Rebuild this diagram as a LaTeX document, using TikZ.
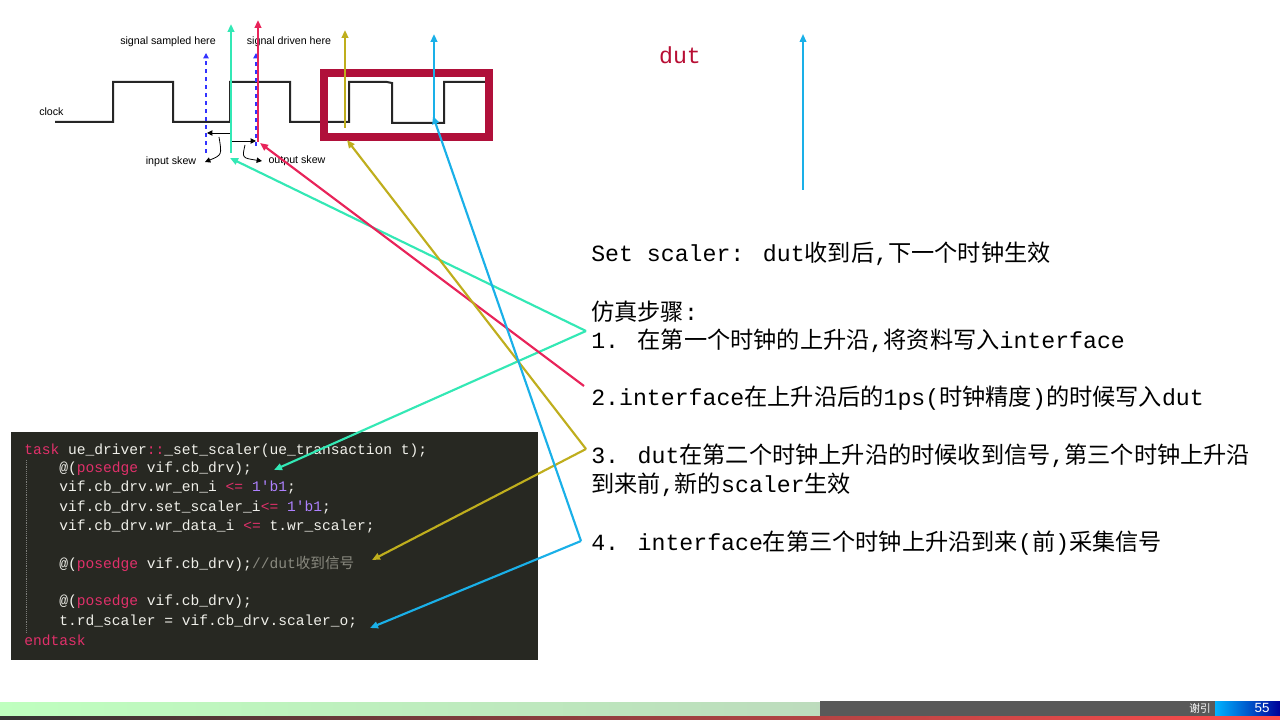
\documentclass[tikz,border=0pt]{standalone}
\usepackage{fontspec}
\setmainfont{Liberation Sans}
\newfontfamily\codefont{Liberation Mono}
\newfontfamily\zhfont{Noto Sans CJK SC}
\newcommand{\zh}[1]{{\zhfont #1}}
\usetikzlibrary{arrows.meta}
\definecolor{cgreen}{HTML}{33E8B5}
\definecolor{cred}{HTML}{E8245A}
\definecolor{cyel}{HTML}{BFAE1D}
\definecolor{cblue}{HTML}{1AB0E8}
\definecolor{boxred}{HTML}{B0103A}
\definecolor{codebg}{HTML}{272822}
\definecolor{kw}{HTML}{E0306A}
\definecolor{num}{HTML}{AE81FF}
\definecolor{cmt}{HTML}{8A8A80}
\definecolor{codefg}{HTML}{F0F0EA}
\newcommand{\K}[1]{\textcolor{kw}{#1}}
\newcommand{\N}[1]{\textcolor{num}{#1}}
\begin{document}
\begin{tikzpicture}[x=0.75pt,y=-0.75pt,
  ann/.style={line width=1.6pt,-{Triangle[length=6pt,width=5pt]}},
  small/.style={font=\fontsize{8}{9}\selectfont,inner sep=0pt},
  rtext/.style={anchor=west,inner sep=0pt,font=\codefont\fontsize{17.4}{20}\selectfont},
  cline/.style={anchor=west,inner sep=0pt,text=codefg,font=\codefont\fontsize{10.95}{12}\selectfont}]
\useasboundingbox (0,0) rectangle (1280,720);
\fill[white] (0,0) rectangle (1280,720);
% waveform
\draw[line width=1.5pt,black!85] (55,122) -- (113,122) -- (113,82) -- (173,82) -- (173,122) -- (230,122) -- (230,82) -- (290,82) -- (290,122) -- (349,122) -- (349,82) -- (387,82) -- (392,83) -- (392,123) -- (444,123) -- (444,82) -- (488,82);
\draw[boxred,line width=5.5pt] (324,73) rectangle (489,137);
\node[small,anchor=west] (clk) at (39,112) {clock};
\node[small] (ssh) at (168,42) {signal sampled here};
\node[small] (sdh) at (289,42) {signal driven here};
\node[small] (isk) at (171,162) {input skew};
\node[small] (osk) at (297,161) {output skew};
\coordinate (b1) at (206,153); \coordinate (b1t) at (206,53);
\coordinate (b2) at (256,146); \coordinate (b2t) at (256,53);
\draw[blue!80,dashed,line width=0.9pt,-{Triangle[length=4pt,width=4pt]}] (b1) -- (b1t);
\draw[blue!80,dashed,line width=0.9pt,-{Triangle[length=4pt,width=4pt]}] (b2) -- (b2t);
\coordinate (k1) at (230,133); \coordinate (k1e) at (207,133);
\coordinate (k2) at (232,141); \coordinate (k2e) at (256,141);
\draw[line width=0.7pt,-{Triangle[length=4pt,width=4pt]}] (k1) -- (k1e);
\draw[line width=0.7pt,-{Triangle[length=4pt,width=4pt]}] (k2) -- (k2e);
\coordinate (c1) at (219,137); \coordinate (c1e) at (205,162);
\coordinate (c2) at (245,145); \coordinate (c2e) at (262,161);
\draw[line width=0.6pt,-{Triangle[length=4pt,width=4pt]}] (c1) .. controls (222,155) .. (c1e);
\draw[line width=0.6pt,-{Triangle[length=4pt,width=4pt]}] (c2) .. controls (242,158) .. (c2e);
% dut
\node[rtext,text=boxred!90!red,anchor=center] (dut) at (680,55) {dut};
\coordinate (rb) at (803,190); \coordinate (rbt) at (803,34);
\draw[ann,cblue,line width=1.2pt] (rb) -- (rbt);
% right text
\node[rtext] (t0) at (591,254) {Set scaler: dut\zh{收到后},\zh{下一个时钟生效}};
\node[rtext] (t1) at (591,312) {\zh{仿真步骤}:};
\node[rtext] (t2) at (591,341) {1. \zh{在第一个时钟的上升沿},\zh{将资料写入}interface};
\node[rtext] (t3) at (591,398) {2.interface\zh{在上升沿后的}1ps(\zh{时钟精度})\zh{的时候写入}dut};
\node[rtext] (t4) at (591,456) {3. dut\zh{在第二个时钟上升沿的时候收到信号},\zh{第三个时钟上升沿}};
\node[rtext] (t5) at (591,485) {\zh{到来前},\zh{新的}scaler\zh{生效}};
\node[rtext] (t6) at (591,543) {4. interface\zh{在第三个时钟上升沿到来}(\zh{前})\zh{采集信号}};
% code block
\fill[codebg] (11,432) rectangle (538,660);
\draw[white!40!codebg,densely dotted] (26,460) -- (26,632);
\node[cline] (l1) at (24,451) {\K{task} ue\_driver\K{::}\_set\_scaler(ue\_transaction t);};
\node[cline] (l2) at (59,469) {@(\K{posedge} vif.cb\_drv);};
\node[cline] (l3) at (59,488) {vif.cb\_drv.wr\_en\_i \K{<=} \N{1'b1};};
\node[cline] (l4) at (59,507) {vif.cb\_drv.set\_scaler\_i\K{<=} \N{1'b1};};
\node[cline] (l5) at (59,526) {vif.cb\_drv.wr\_data\_i \K{<=} t.wr\_scaler;};
\node[cline] (l6) at (59,564) {@(\K{posedge} vif.cb\_drv);\textcolor{cmt}{//dut\zh{收到信号}}};
\node[cline] (l7) at (59,602) {@(\K{posedge} vif.cb\_drv);};
\node[cline] (l8) at (59,621) {t.rd\_scaler = vif.cb\_drv.scaler\_o;};
\node[cline] (l9) at (24,640) {\K{endtask}};
% annotation connectors
\coordinate (gv) at (231,153); \coordinate (gvt) at (231,24);
\draw[ann,cgreen] (gv) -- (gvt);
\coordinate (rv) at (258,142); \coordinate (rvt) at (258,20);
\draw[ann,cred] (rv) -- (rvt);
\coordinate (yv) at (345,128); \coordinate (yvt) at (345,30);
\draw[ann,cyel] (yv) -- (yvt);
\coordinate (bv) at (434,118); \coordinate (bvt) at (434,34);
\draw[ann,cblue] (bv) -- (bvt);
\coordinate (g0) at (586,331);
\draw[ann,cgreen] (g0) -- (230,158);
\draw[ann,cgreen] (g0) -- (274,470);
\coordinate (r0) at (584,386);
\draw[ann,cred] (r0) -- (260,143);
\coordinate (y0) at (586,449);
\draw[ann,cyel] (y0) -- (347,140);
\draw[ann,cyel] (y0) -- (372,560);
\coordinate (u0) at (581,541);
\draw[ann,cblue] (u0) -- (433,116);
\draw[ann,cblue] (u0) -- (370,628);
% footer
\shade[left color=green!25!white,right color=green!30!gray!40] (0,702) rectangle (820,716);
\fill[black!65] (820,701) rectangle (1215,716);
\shade[left color=cyan!70!blue,right color=blue!60!black] (1215,701) rectangle (1280,716);
\shade[left color=black!80,right color=red!60!pink] (0,716) rectangle (1280,720);
\node[text=white,inner sep=0pt,font=\zhfont\fontsize{8}{9}\selectfont] (xy) at (1200,708) {谢引};
\node[text=white,inner sep=0pt,font=\fontsize{10}{11}\selectfont] (pg) at (1262,708) {55};
\end{tikzpicture}
\end{document}
